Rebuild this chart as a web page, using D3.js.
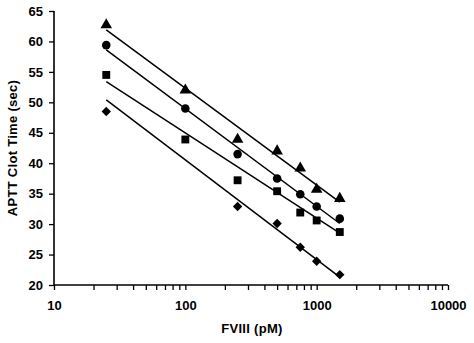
<!DOCTYPE html>
<html><head><meta charset="utf-8">
<script src="https://cdn.jsdelivr.net/npm/d3@7"></script>
<style>body{margin:0;background:#fff}svg{display:block}text{font-family:"Liberation Sans",Arial,sans-serif;font-weight:bold;fill:#000}</style>
</head><body>
<script>
const fviii = [25, 100, 250, 500, 750, 1000, 1500];
const triangleSeries = [62.7, 52.0, 43.9, 42.0, 39.2, 35.7, 34.2];
const circleSeries = [59.4, 49.0, 41.5, 37.5, 34.9, 32.9, 30.9];
const squareSeries = [54.5, 43.9, 37.2, 35.4, 31.9, 30.6, 28.7];
const diamondSeries = [48.5, null, 32.9, 30.1, 26.2, 23.9, 21.7];
// regression line values at x = 25 and x = 1500
const fitX = [25, 1500];
const triangleFit = [61.9, 33.6];
const circleFit = [58.6, 30.1];
const squareFit = [53.4, 28.5];
const diamondFit = [50.4, 21.3];
const yTicks = [20, 25, 30, 35, 40, 45, 50, 55, 60, 65];
const xTickLabels = [10, 100, 1000, 10000];

const W = 474, H = 343;
const svg = d3.select("body").append("svg").attr("width", W).attr("height", H);
const x = d3.scaleLog().domain([10, 10000]).range([54, 448]);
const y = d3.scaleLinear().domain([20, 65]).range([285, 11]);

// axes
const minorTicks = [];
for (let d = 10; d < 10000; d *= 10) for (let k = 1; k < 10; k++) minorTicks.push(d * k);
minorTicks.push(10000);
const xAxis = d3.axisBottom(x).tickValues(minorTicks).tickSize(5).tickFormat(d => xTickLabels.includes(d) ? d : "");
const gx = svg.append("g").attr("transform", "translate(0,285)").call(xAxis);
gx.select(".domain").attr("d", "M54,0H448").attr("stroke", "#000").attr("stroke-width", 1.6);
gx.selectAll(".tick line").attr("stroke", "#000").attr("stroke-width", 1.3);
gx.selectAll(".tick text").attr("font-size", 13).attr("dy", "1.3em").style("font-family", "Liberation Sans, Arial").style("font-weight", "bold");

const yAxis = d3.axisLeft(y).tickValues(yTicks).tickSize(5).tickPadding(6);
const gy = svg.append("g").attr("transform", "translate(54,0)").call(yAxis);
gy.select(".domain").attr("d", "M0,285V11").attr("stroke", "#000").attr("stroke-width", 1.6);
gy.selectAll(".tick line").attr("stroke", "#000").attr("stroke-width", 1.3);
gy.selectAll(".tick text").attr("font-size", 13).style("font-family", "Liberation Sans, Arial").style("font-weight", "bold");

svg.append("text").attr("x", 252).attr("y", 333).attr("text-anchor", "middle").attr("font-size", 13).attr("letter-spacing", 0.3).text("FVIII (pM)");
svg.append("text").attr("transform", "translate(17,148) rotate(-90)").attr("text-anchor", "middle").attr("font-size", 13).attr("letter-spacing", 0.3).text("APTT Clot Time (sec)");

const series = [
  {vals: triangleSeries, fit: triangleFit, sym: d3.symbolTriangle, size: 58, rot: 0},
  {vals: circleSeries, fit: circleFit, sym: d3.symbolCircle, size: 58, rot: 0},
  {vals: squareSeries, fit: squareFit, sym: d3.symbolSquare, size: 62, rot: 0},
  {vals: diamondSeries, fit: diamondFit, sym: d3.symbolSquare, size: 44, rot: 45}
];

series.forEach(s => {
  const pts = fviii.map((f, i) => ({f, v: s.vals[i]})).filter(p => p.v != null);
  svg.append("line")
    .attr("x1", x(fitX[0])).attr("y1", y(s.fit[0]))
    .attr("x2", x(fitX[1])).attr("y2", y(s.fit[1]))
    .attr("stroke", "#000").attr("stroke-width", 1.5);
  svg.selectAll(null).data(pts).enter().append("path")
    .attr("d", d3.symbol().type(s.sym).size(s.size))
    .attr("transform", p => `translate(${x(p.f)},${y(p.v)}) rotate(${s.rot})`)
    .attr("fill", "#000");
});
</script>
</body></html>
